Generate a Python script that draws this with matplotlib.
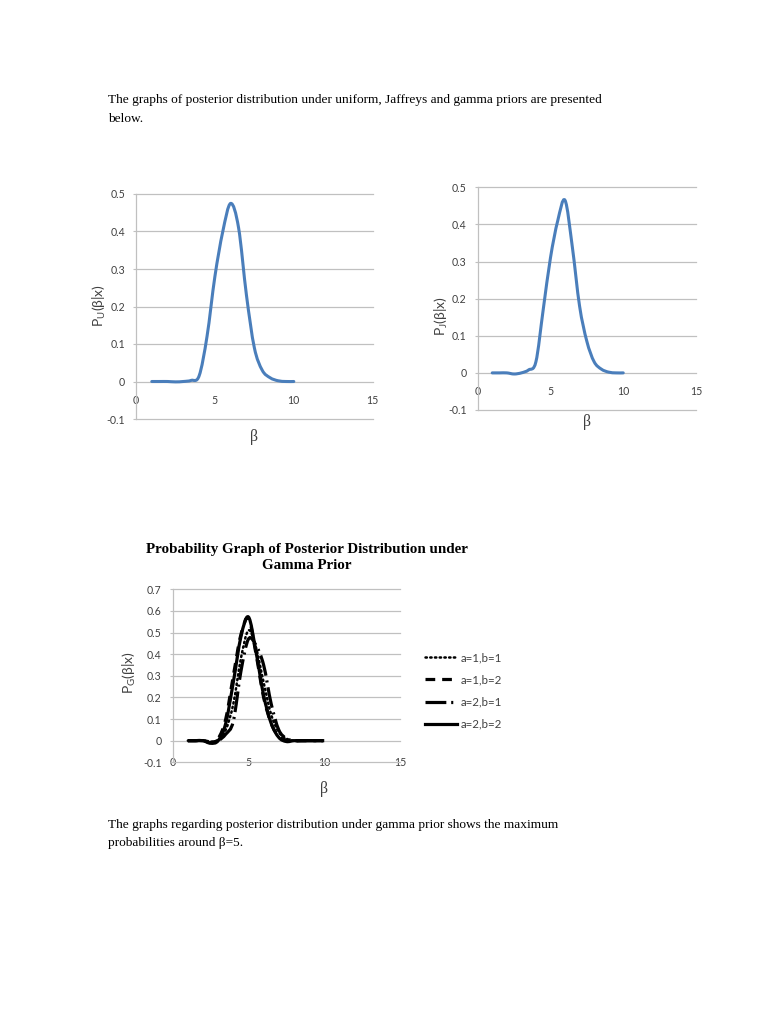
import matplotlib
matplotlib.use("Agg")
import matplotlib.pyplot as plt
import numpy as np
from matplotlib.ticker import MultipleLocator
from matplotlib.path import Path
from matplotlib.patches import PathPatch
from matplotlib.lines import Line2D

plt.rcParams['lines.scale_dashes'] = False

# ---------------- data ----------------
beta = [1, 1.5, 2, 2.5, 3, 3.5, 4, 4.5, 5, 5.5, 6, 6.5, 7, 7.5, 8, 8.5, 9, 9.5, 10]

p_uniform = [0, 0, 0, -0.001, 0, 0.003, 0.015, 0.12, 0.28, 0.40, 0.475, 0.41, 0.23, 0.09,
             0.03, 0.01, 0.002, 0, 0]
p_jeffreys = [0, 0, 0, -0.003, 0, 0.008, 0.03, 0.17, 0.31, 0.41, 0.465, 0.34, 0.18, 0.085,
              0.03, 0.01, 0.002, 0, 0]

gamma_labels = ['a=1,b=1', 'a=1,b=2', 'a=2,b=1', 'a=2,b=2']
p_g11 = [0, 0, 0, -0.005, 0.005, 0.05, 0.17, 0.38, 0.51, 0.43, 0.27, 0.12, 0.04, 0.01,
         0, 0, 0, 0, 0]
p_g12 = [0, 0, 0, -0.008, 0.01, 0.10, 0.30, 0.49, 0.565, 0.40, 0.20, 0.08, 0.02, 0.003,
         0, 0, 0, 0, 0]
p_g21 = [0, 0, 0, -0.005, 0.0, 0.03, 0.09, 0.32, 0.47, 0.44, 0.35, 0.17, 0.05, 0.01,
         0, 0, 0, 0, 0]
p_g22 = [0, 0, 0, -0.012, 0.0, 0.08, 0.27, 0.48, 0.572, 0.41, 0.21, 0.08, 0.015, -0.004,
         0, 0, 0, 0, 0]

x_ticks = [0, 5, 10, 15]
text_top = ("The graphs of posterior distribution under uniform, Jaffreys and gamma priors are presented\n"
            "below.")
text_bottom = ("The graphs regarding posterior distribution under gamma prior shows the maximum\n"
               "probabilities around β=5.")
gamma_title = "Probability Graph of Posterior Distribution under\nGamma Prior"

# ---------------- style ----------------
W, H = 768, 1024
fig = plt.figure(figsize=(W / 100, H / 100), dpi=100)
fig.patch.set_facecolor('white')

TICK_FONT = 'Lato'
TICK_COLOR = '#404040'
GRID_COLOR = '#c0c0c0'
BLUE = '#4a7ebb'
TICK_SIZE = 7.6


def px_axes(l, t, r, b):
    return fig.add_axes([l / W, 1 - b / H, (r - l) / W, (b - t) / H])


def smooth_line(ax, x, y, **kw):
    """Excel-style smoothed line (Catmull-Rom rendered as cubic Bezier)."""
    x = np.asarray(x, float)
    y = np.asarray(y, float)
    pts = np.column_stack([x, y])
    n = len(pts)
    verts = [pts[0]]
    codes = [Path.MOVETO]
    for i in range(n - 1):
        p0 = pts[i - 1] if i > 0 else pts[i]
        p1 = pts[i]
        p2 = pts[i + 1]
        p3 = pts[i + 2] if i + 2 < n else pts[i + 1]
        c1 = p1 + (p2 - p0) / 6.0
        c2 = p2 - (p3 - p1) / 6.0
        verts += [c1, c2, p2]
        codes += [Path.CURVE4] * 3
    patch = PathPatch(Path(verts, codes), fill=False, transform=ax.transData, **kw)
    ax.add_patch(patch)
    return patch


def style_axes(ax, ymin, ymax):
    ax.set_xlim(0, 15)
    ax.set_ylim(ymin, ymax)
    ax.xaxis.set_major_locator(MultipleLocator(5))
    ax.yaxis.set_major_locator(MultipleLocator(0.1))
    ax.yaxis.set_major_formatter(plt.FuncFormatter(lambda v, p: ('%g' % round(v, 2))))
    for s in ['top', 'right']:
        ax.spines[s].set_visible(False)
    ax.spines['left'].set_color(GRID_COLOR)
    ax.spines['left'].set_linewidth(0.9)
    ax.spines['bottom'].set_position(('data', 0))
    ax.spines['bottom'].set_visible(False)
    ax.grid(axis='y', color=GRID_COLOR, linewidth=0.9, clip_on=False)
    ax.set_axisbelow(True)
    ax.tick_params(axis='y', length=2.5, width=0.8, color=GRID_COLOR, pad=5.5,
                   labelsize=TICK_SIZE, labelcolor=TICK_COLOR)
    ax.tick_params(axis='x', length=0, pad=9.5, labelsize=TICK_SIZE, labelcolor=TICK_COLOR)
    ax.set_xticks(x_ticks)
    for lab in ax.get_xticklabels() + ax.get_yticklabels():
        lab.set_fontfamily(TICK_FONT)
    ax.patch.set_alpha(0)


def ylabel(ax, txt, right_px, center_px, box):
    l, t, r, b = box
    ax.set_ylabel(txt, fontsize=10, family=TICK_FONT, color='#404040')
    ax.yaxis.set_label_coords(-(l - right_px) / (r - l), (b - center_px) / (b - t))


def xlabel(ax, center_x, center_y, box):
    l, t, r, b = box
    ax.set_xlabel('β', fontsize=11.5, family='Liberation Serif', color='#404040')
    ax.xaxis.label.set_va('center')
    ax.xaxis.set_label_coords((center_x - l) / (r - l), (b - center_y) / (b - t))


# ---------------- chart 1: uniform ----------------
box1 = (136, 194, 372.7, 419)
ax1 = px_axes(*box1)
smooth_line(ax1, beta, p_uniform, edgecolor=BLUE, lw=2.2, joinstyle='round', capstyle='round')
style_axes(ax1, -0.1, 0.5)
xlabel(ax1, 254, 437, box1)
ylabel(ax1, r'P$_\mathregular{U}$(β|x)', 108, 306, box1)

# ---------------- chart 2: Jeffreys ----------------
box2 = (477.7, 187.3, 696, 410)
ax2 = px_axes(*box2)
smooth_line(ax2, beta, p_jeffreys, edgecolor=BLUE, lw=2.2, joinstyle='round', capstyle='round')
style_axes(ax2, -0.1, 0.5)
xlabel(ax2, 587, 422, box2)
ylabel(ax2, r'P$_\mathregular{J}$(β|x)', 450, 316, box2)

# ---------------- chart 3: gamma ----------------
box3 = (172.7, 589.3, 400, 762.3)
ax3 = px_axes(*box3)
styles = [dict(lw=1.8, linestyle=(0, (1.0, 2.4)), capstyle='round'),
          dict(lw=2.3, linestyle=(0, (7, 5))),
          dict(lw=2.3, linestyle=(0, (15, 3.5, 1.5, 3.5))),
          dict(lw=2.3, linestyle='-', joinstyle='round')]
series = [p_g11, p_g12, p_g21, p_g22]
handles = []
for ys, st, lab in zip(series, styles, gamma_labels):
    smooth_line(ax3, beta, ys, edgecolor='black', **st)
    lst = {k: v for k, v in st.items() if k in ('lw', 'linestyle')}
    handles.append(Line2D([], [], color='black', label=lab,
                          dash_capstyle=st.get('capstyle', 'butt'), **lst))
style_axes(ax3, -0.1, 0.7)
ax3.tick_params(axis='x', pad=11.5)
xlabel(ax3, 324, 789, box3)
ylabel(ax3, r'P$_\mathregular{G}$(β|x)', 138, 673, box3)
leg = ax3.legend(handles=handles, loc='upper left', bbox_to_anchor=(425 / W, 1 - 652 / H),
                 bbox_transform=fig.transFigure, frameon=False, borderpad=0,
                 borderaxespad=0, handlelength=2.75, handletextpad=0.35,
                 labelspacing=0.98, prop={'family': TICK_FONT, 'size': 8.3})
for t in leg.get_texts():
    t.set_color(TICK_COLOR)

fig.text(306.7 / W, 1 - 557.5 / H, gamma_title, ha='center', va='center',
         fontsize=10.8, fontweight='bold', family='Liberation Serif', linespacing=1.35,
         multialignment='center')

# ---------------- body text ----------------
fig.text(108 / W, 1 - 94 / H, text_top, ha='left', va='top', fontsize=9.6,
         family='Liberation Serif', linespacing=1.75)
fig.text(108 / W, 1 - 819 / H, text_bottom, ha='left', va='top', fontsize=9.6,
         family='Liberation Serif', linespacing=1.7)

fig.savefig('out.png', dpi=100, facecolor='white')
